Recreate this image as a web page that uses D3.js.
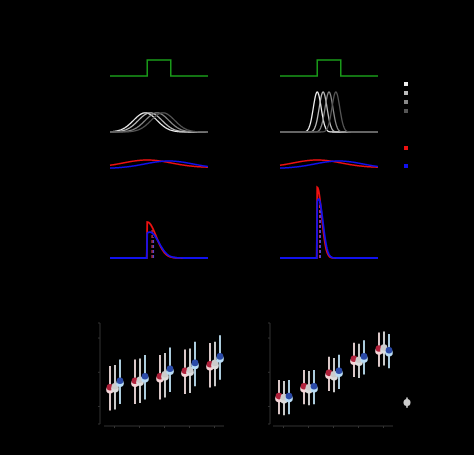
<!DOCTYPE html>
<html><head><meta charset="utf-8">
<script src="https://cdn.jsdelivr.net/npm/d3@7"></script>
<style>body{margin:0;background:#000}</style>
</head><body>
<svg id="c" width="474" height="455"></svg>
<script>
// model panels: pulse windows, tuning centers, widths
var pulse = [[0.38, 0.62], [0.38, 0.62]];
var tuningCenters = [[0.36, 0.41, 0.48, 0.54], [0.38, 0.44, 0.50, 0.57]];
var tuningWidth = [0.12, 0.04];
var tuningPeak = [0.48, 1.0];
var grays = ["#eeeeee", "#bbbbbb", "#888888", "#555555"];
var respPeak = { red: [0.5, 0.98], blue: [0.36, 0.82] };
var respDecay = [0.09, 0.045];

// behaviour: 5 levels, three conditions per level
var levels = [1, 2, 3, 4, 5];
var redL = [1.52, 1.71, 1.84, 2.0, 2.19];
var grayL = [1.55, 1.74, 1.9, 2.03, 2.23];
var blueL = [1.71, 1.84, 2.06, 2.23, 2.42];
var redR = [1.26, 1.55, 1.94, 2.35, 2.65];
var grayR = [1.23, 1.52, 1.9, 2.32, 2.68];
var blueR = [1.26, 1.55, 2.0, 2.42, 2.6];
var errL = 0.65, errR = 0.5;
var lonePoint = 1.1;

var svg = d3.select("#c");
var panelX = [[110, 208], [280, 378]];
var grid = d3.range(0, 1.0001, 0.005);

panelX.forEach(function(px, i) {
  var x = d3.scaleLinear().domain([0, 1]).range(px);
  // pulse
  var yp = d3.scaleLinear().domain([0, 1]).range([76, 60]);
  svg.append("path").attr("fill", "none").attr("stroke", "#1a9a1a").attr("stroke-width", 1.5)
    .attr("d", d3.line().curve(d3.curveStepAfter).x(function(d) { return x(d[0]); }).y(function(d) { return yp(d[1]); })(
      [[0, 0], [pulse[i][0], 1], [pulse[i][1], 0], [1, 0]]));
  // tuning curves
  var yt = d3.scaleLinear().domain([0, 1]).range([132, 92]);
  tuningCenters[i].forEach(function(c, k) {
    svg.append("path").attr("fill", "none").attr("stroke", grays[k]).attr("stroke-width", 1.3)
      .attr("d", d3.line().x(function(t) { return x(t); })
        .y(function(t) { return yt(tuningPeak[i] * Math.exp(-Math.pow(t - c, 2) / (2 * tuningWidth[i] * tuningWidth[i]))); })(grid));
  });
  // prior-like curves
  var yr = d3.scaleLinear().domain([0, 1]).range([170, 160]);
  svg.append("path").attr("fill", "none").attr("stroke", "#ee1111").attr("stroke-width", 1.5)
    .attr("d", d3.line().x(function(t) { return x(t); }).y(function(t) { return yr(0.25 + 0.75 * Math.exp(-Math.pow(t - 0.38, 2) / 0.12)); })(grid));
  svg.append("path").attr("fill", "none").attr("stroke", "#1111ee").attr("stroke-width", 1.5)
    .attr("d", d3.line().x(function(t) { return x(t); }).y(function(t) { return yr(0.15 + 0.75 * Math.exp(-Math.pow(t - 0.6, 2) / 0.12)); })(grid));
  // responses
  var yb = d3.scaleLinear().domain([0, 1]).range([258, 186]);
  ["red", "blue"].forEach(function(col) {
    var pk = respPeak[col][i];
    var on = pulse[i][0];
    var pts = grid.map(function(t) {
      var v = t < on ? 0 : pk * Math.exp(-Math.pow(t - on, 2) / (2 * respDecay[i] * respDecay[i]));
      if (col === "blue" && t >= on) v = pk * Math.exp(-Math.pow(t - on - respDecay[i] * 0.3, 2) / (2 * respDecay[i] * respDecay[i]));
      return [t, v];
    });
    svg.append("path").attr("fill", "none").attr("stroke", col === "red" ? "#ee1111" : "#1111ee").attr("stroke-width", 1.8)
      .attr("d", d3.line().x(function(d) { return x(d[0]); }).y(function(d) { return yb(d[1]); })(pts));
    svg.append("line").attr("x1", x(on + respDecay[i] * (col === "red" ? 0.55 : 0.7))).attr("x2", x(on + respDecay[i] * (col === "red" ? 0.55 : 0.7)))
      .attr("y1", yb(0)).attr("y2", yb(pk * 0.8)).attr("stroke", col === "red" ? "#cc3344" : "#5544cc")
      .attr("stroke-width", 1.3).attr("stroke-dasharray", "3,2");
  });
});

// legend swatches
grays.forEach(function(g, k) {
  svg.append("rect").attr("x", 404).attr("y", 82 + k * 9).attr("width", 4).attr("height", 4).attr("fill", g);
});
svg.append("rect").attr("x", 404).attr("y", 146).attr("width", 4).attr("height", 4).attr("fill", "#ee1111");
svg.append("rect").attr("x", 404).attr("y", 164).attr("width", 4).attr("height", 4).attr("fill", "#1111ee");

// behaviour panels
var y = d3.scaleLinear().domain([0.65, 3.6]).range([418, 317]);
function behav(x0, x1, yaxX, reds, grs, blues, err) {
  var x = d3.scalePoint().domain(levels).range([x0, x1]);
  var ax = svg.append("g").attr("transform", "translate(0,426)")
    .call(d3.axisBottom(x).tickSize(2).tickFormat(""));
  ax.select(".domain").attr("stroke", "#333").attr("d", "M" + (x0 - 10) + ",0H" + (x1 + 10));
  ax.selectAll(".tick line").attr("stroke", "#333");
  var ay = svg.append("g").attr("transform", "translate(" + yaxX + ",0)")
    .call(d3.axisLeft(y).tickValues([1, 2, 3]).tickSize(2).tickFormat(""));
  ay.selectAll("path,line").attr("stroke", "#333");
  ay.select(".domain").attr("d", "M-2,323H0V424H-2");
  var groups = [
    { v: reds, dx: -4, bar: "#f3dede", fill: "#b0203a", under: "#f5d5d8" },
    { v: grs, dx: 1, bar: "#e0e0e0", fill: "#cccccc", under: "#dddddd" },
    { v: blues, dx: 6, bar: "#bfe3f5", fill: "#2a4aa8", under: "#b9dcf5" }
  ];
  groups.forEach(function(g) {
    levels.forEach(function(l, k) {
      var cx = x(l) + g.dx, cy = y(g.v[k]);
      svg.append("line").attr("x1", cx).attr("x2", cx).attr("y1", y(g.v[k] - err)).attr("y2", y(g.v[k] + err))
        .attr("stroke", g.bar).attr("stroke-width", 1.8);
      svg.append("circle").attr("cx", cx).attr("cy", cy + 1.5).attr("r", 3.8).attr("fill", g.under);
      svg.append("circle").attr("cx", cx).attr("cy", cy - 1).attr("r", 3.3).attr("fill", g.fill);
    });
  });
}
behav(114, 214, 100, redL, grayL, blueL, errL);
behav(283, 383, 270, redR, grayR, blueR, errR);
svg.append("line").attr("x1", 407).attr("x2", 407).attr("y1", y(lonePoint - 0.15)).attr("y2", y(lonePoint + 0.15))
  .attr("stroke", "#dddddd").attr("stroke-width", 1.5);
svg.append("circle").attr("cx", 407).attr("cy", y(lonePoint)).attr("r", 3.5).attr("fill", "#cccccc");
</script>
</body></html>
